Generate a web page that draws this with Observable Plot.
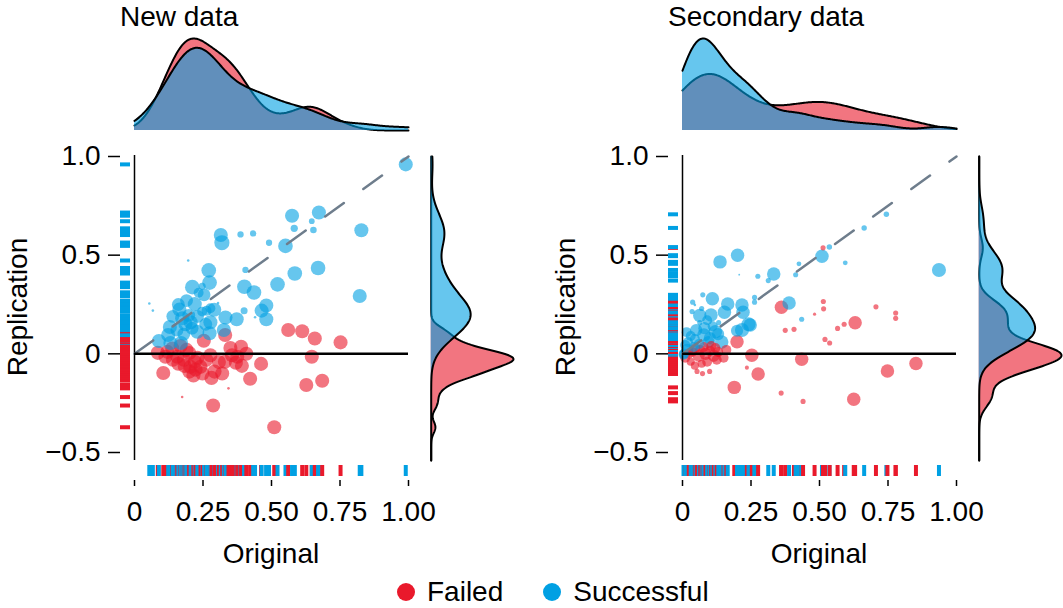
<!DOCTYPE html>
<html><head><meta charset="utf-8">
<script src="https://cdn.jsdelivr.net/npm/d3@7"></script>
<script src="https://cdn.jsdelivr.net/npm/@observablehq/plot@0.6"></script>
<style>
body{margin:0;background:#fff;font-family:"Liberation Sans",Arial,Helvetica,sans-serif;}
#chart{position:relative;width:1063px;height:608px;overflow:hidden;background:#fff;}
.panel{position:absolute;top:0;width:548px;height:608px;}
.panel svg{position:absolute;left:0;top:0;}
#legend{position:absolute;left:397px;top:578px;display:flex;align-items:center;height:28px;font-size:28px;line-height:28px;}
#legend .dot{width:18px;height:18px;border-radius:50%;display:inline-block;margin-right:12px;}
#legend .item{display:flex;align-items:center;}
</style></head><body><div id="chart"></div>
<script>
// ---------- categories, labels ----------
const outcomes = ["Failed", "Successful"];
const outcomeColors = ["#E9192B", "#00A0E3"];
const panelTitles = ["New data", "Secondary data"];
const xLabel = "Original";
const yLabel = "Replication";
const xTicks = [0, 0.25, 0.5, 0.75, 1];
const yTicks = [-0.5, 0, 0.5, 1];
const identityLine = [0, 1];

// ---------- New data: Successful ----------
const newSuccessX = [0.99,0.575,0.673,0.647,0.583,0.653,0.828,0.315,0.319,0.387,0.433,0.491,0.551,0.196,0.271,0.405,0.585,0.670,0.211,0.274,0.401,0.436,0.522,0.822,0.254,0.054,0.067,0.164,0.220,0.291,0.263,0.481,0.400,0.464,0.481,0.332,0.373,0.277,0.305,0.44,0.174,0.129,0.089,0.186,0.229,0.274,0.326,0.123,0.17,0.131,0.247,0.247,0.277,0.198,0.234,0.205,0.155,0.19,0.23,0.16,0.21,0.26,0.14,0.18];
const newSuccessY = [0.96,0.70,0.716,0.672,0.636,0.628,0.626,0.602,0.563,0.605,0.61,0.563,0.547,0.473,0.423,0.425,0.407,0.435,0.338,0.361,0.340,0.311,0.352,0.293,0.299,0.255,0.219,0.224,0.252,0.223,0.218,0.245,0.218,0.219,0.175,0.184,0.175,0.160,0.257,0.185,0.180,0.136,0.065,0.150,0.112,0.104,0.121,0.095,0.055,0.055,0.342,0.214,0.231,0.195,0.31,0.16,0.12,0.27,0.19,0.25,0.13,0.15,0.19,0.10];
const newSuccessN = [600,600,600,100,160,130,600,600,700,120,120,120,650,20,650,120,650,650,650,650,650,650,650,600,500,20,20,600,600,600,300,600,150,600,600,600,600,600,20,20,600,600,600,600,600,600,600,600,600,600,150,300,300,500,300,600,500,500,500,500,500,500,500,500];

// ---------- New data: Failed ----------
const newFailX = [0.561,0.612,0.658,0.752,0.647,0.462,0.627,0.685,0.422,0.287,0.510,0.343,0.174,0.105,0.085,0.331,0.253,0.389,0.408,0.356,0.375,0.392,0.320,0.281,0.308,0.277,0.241,0.223,0.204,0.180,0.156,0.138,0.168,0.113,0.200,0.230,0.262,0.350,0.370,0.292,0.215,0.248,0.330,0.183,0.12,0.19,0.22,0.16,0.14,0.20];
const newFailY = [0.121,0.114,0.078,0.058,-0.015,-0.051,-0.158,-0.136,-0.126,-0.262,-0.372,-0.175,-0.219,-0.097,0.005,0.095,0.066,0.036,0.000,-0.007,-0.015,-0.061,-0.100,-0.122,-0.041,-0.007,-0.066,-0.080,-0.066,-0.030,-0.015,0.027,0.040,-0.015,0.004,-0.020,-0.030,0.030,-0.045,-0.090,-0.110,-0.100,-0.040,-0.062,0.01,0.02,-0.04,-0.05,-0.03,-0.09];
const newFailN = [600,600,600,600,600,600,600,600,600,600,600,20,20,600,600,600,600,600,600,600,600,600,600,600,600,600,600,600,600,600,600,600,600,600,600,600,600,600,600,600,600,600,600,600,600,600,600,600,600,600];

// ---------- Secondary data: Successful ----------
const secSuccessX = [0.744,0.663,0.536,0.509,0.594,0.201,0.137,0.207,0.425,0.333,0.275,0.313,0.413,0.936,0.074,0.037,0.109,0.165,0.217,0.263,0.263,0.389,0.035,0.063,0.104,0.153,0.221,0.241,0.435,0.132,0.063,0.120,0.078,0.217,0.199,0.143,0.095,0.041,0.017,0.005,0.010,0.045,0.004,0.247,0.02,0.03,0.05,0.06,0.08,0.10,0.11,0.13,0.015,0.045,0.09,0.07];
const secSuccessY = [0.707,0.638,0.541,0.495,0.461,0.500,0.466,0.401,0.456,0.405,0.393,0.371,0.401,0.425,0.299,0.262,0.279,0.252,0.248,0.286,0.262,0.258,0.214,0.194,0.197,0.211,0.211,0.150,0.175,0.158,0.158,0.112,0.095,0.121,0.117,0.060,0.060,0.035,0.020,0.000,0.045,0.248,-0.005,0.146,0.06,0.09,0.12,0.05,0.13,0.08,0.14,0.10,0.11,0.075,0.17,0.23];
const secSuccessN = [90,90,90,550,70,550,550,10,70,550,80,80,80,600,80,80,550,550,550,80,80,550,80,550,550,550,550,600,80,80,80,550,550,600,450,550,450,300,450,300,300,20,300,550,300,300,450,300,450,450,300,450,300,300,300,80];

// ---------- Secondary data: Failed ----------
const secFailX = [0.513,0.361,0.514,0.515,0.482,0.706,0.778,0.778,0.630,0.590,0.566,0.375,0.407,0.199,0.520,0.537,0.253,0.435,0.235,0.276,0.189,0.360,0.440,0.625,0.748,0.852,0.053,0.073,0.099,0.132,0.023,0.059,0.084,0.114,0.047,0.077,0.100,0.125,0.130,0.01,0.035,0.065,0.09,0.15,0.16,0.105,0.03,0.07,0.12,0.045];
const secFailY = [0.537,0.236,0.265,0.228,0.201,0.238,0.207,0.180,0.158,0.150,0.129,0.119,0.124,0.061,0.073,0.055,-0.007,-0.027,-0.070,-0.102,-0.170,-0.199,-0.241,-0.230,-0.087,-0.049,-0.089,-0.100,-0.089,-0.002,0.000,-0.010,0.000,-0.010,0.030,0.035,0.015,-0.030,0.010,-0.02,0.01,0.02,-0.04,-0.02,0.02,0.04,-0.04,-0.05,0.03,-0.06];
const secFailN = [80,550,80,80,30,80,80,80,550,80,80,80,80,550,80,80,550,550,50,550,550,80,80,550,550,550,80,80,80,80,300,450,450,450,300,300,300,300,300,300,300,300,300,300,300,300,200,200,300,200];

// ---------- helpers ----------
function rowsOf(xs, ys, ns, outcome) {
  return xs.map((x, i) => ({x, y: ys[i], n: ns[i], outcome}));
}
const panels = [
  {title: panelTitles[0], fail: rowsOf(newFailX, newFailY, newFailN, outcomes[0]), success: rowsOf(newSuccessX, newSuccessY, newSuccessN, outcomes[1])},
  {title: panelTitles[1], fail: rowsOf(secFailX, secFailY, secFailN, outcomes[0]), success: rowsOf(secSuccessX, secSuccessY, secSuccessN, outcomes[1])}
];

// R's bw.nrd0 and a gaussian kernel density estimate (statistical transform of the data)
function bwNrd0(v) {
  const s = d3.sort(v);
  const sd = d3.deviation(s);
  const iqr = d3.quantile(s, 0.75) - d3.quantile(s, 0.25);
  let lo = Math.min(sd, iqr / 1.34);
  if (!(lo > 0)) lo = sd || 1;
  return 0.9 * lo * Math.pow(s.length, -0.2);
}
function kde(values, lo, hi, outcome) {
  const h = bwNrd0(values);
  const k = u => Math.exp(-0.5 * u * u) / Math.sqrt(2 * Math.PI);
  return d3.range(301).map(i => {
    const t = lo + (hi - lo) * i / 300;
    return {t, d: d3.mean(values, v => k((t - v) / h)) / h, outcome};
  });
}

const baseStyle = {background: "transparent", overflow: "visible", fontFamily: "'Liberation Sans', Arial, Helvetica, sans-serif", fontSize: "28px", color: "#000"};
const color = {domain: outcomes, range: outcomeColors};
const fmtX = d => d === 0 ? "0" : d.toFixed(2);
const fmtY = d => d === 0 ? "0" : d.toFixed(1).replace("-", "\u2212");
const Y = {domain: [-0.5, 1], range: [452, 156]};

const chart = document.getElementById("chart");

panels.forEach((p, pi) => {
  const div = document.createElement("div");
  div.className = "panel";
  div.style.left = (pi * 548) + "px";
  chart.appendChild(div);

  const rows = [...p.fail, ...p.success];

  // marginal densities
  const dxF = kde(p.fail.map(d => d.x), 0, 1, outcomes[0]);
  const dxS = kde(p.success.map(d => d.x), 0, 1, outcomes[1]);
  const dyF = kde(p.fail.map(d => d.y), -0.54, 1.0, outcomes[0]);
  const dyS = kde(p.success.map(d => d.y), -0.54, 1.0, outcomes[1]);
  const maxX = d3.max([...dxF, ...dxS], d => d.d);
  const maxY = d3.max([...dyF, ...dyS], d => d.d);

  // right marginal (Replication)
  div.appendChild(Plot.plot({
    width: 530, height: 470, marginLeft: 430, marginRight: 10, marginTop: 155, marginBottom: 10,
    style: baseStyle,
    x: {domain: [0, maxY], range: [430.7, 513], axis: null},
    y: {...Y, axis: null},
    color,
    marks: [
      Plot.areaX(dyF, {y: "t", x: "d", fill: "outcome", fillOpacity: 0.6}),
      Plot.lineX(dyF, {y: "t", x: "d", stroke: "#000", strokeWidth: 2}),
      Plot.areaX(dyS, {y: "t", x: "d", fill: "outcome", fillOpacity: 0.6}),
      Plot.lineX(dyS, {y: "t", x: "d", stroke: "#000", strokeWidth: 2})
    ]
  }));

  // top marginal (Original)
  div.appendChild(Plot.plot({
    width: 420, height: 135, marginLeft: 134, marginRight: 12, marginTop: 38, marginBottom: 5,
    style: baseStyle,
    x: {domain: [0, 1], axis: null},
    y: {domain: [0, maxX], range: [130, 38], axis: null},
    color,
    marks: [
      Plot.areaY(dxF, {x: "t", y: "d", fill: "outcome", fillOpacity: 0.6}),
      Plot.lineY(dxF, {x: "t", y: "d", stroke: "#000", strokeWidth: 2}),
      Plot.areaY(dxS, {x: "t", y: "d", fill: "outcome", fillOpacity: 0.6}),
      Plot.lineY(dxS, {x: "t", y: "d", stroke: "#000", strokeWidth: 2})
    ]
  }));

  // scatter
  div.appendChild(Plot.plot({
    width: 420, height: 470, marginLeft: 134, marginRight: 12, marginTop: 155, marginBottom: 10,
    style: baseStyle,
    x: {domain: [0, 1], axis: null},
    y: {...Y, axis: null},
    r: {domain: [0, 700], range: [0, 7.6]},
    color,
    marks: [
      Plot.dot(rows, {x: "x", y: "y", r: "n", fill: "outcome", fillOpacity: 0.6}),
      Plot.ruleX([0], {stroke: "#000", strokeWidth: 1.5}),
      Plot.line(identityLine, {x: d => d, y: d => d, stroke: "#6E7D8C", strokeWidth: 2.5, strokeDasharray: "23,24"}),
      Plot.ruleY([0], {stroke: "#000", strokeWidth: 2.5})
    ]
  }));

  // bottom rug + x axis
  div.appendChild(Plot.plot({
    width: 420, height: 530, marginLeft: 134, marginRight: 12, marginTop: 465, marginBottom: 50,
    style: baseStyle,
    x: {domain: [0, 1]},
    color,
    marks: [
      Plot.tickX(rows, {x: "x", stroke: "outcome", strokeWidth: 4, insetBottom: 4, sort: "x"}),
      Plot.axisX({ticks: xTicks, tickFormat: fmtX, tickSize: 6, tickPadding: 15, strokeWidth: 1.5, label: null})
    ]
  }));

  // left rug + y axis
  div.appendChild(Plot.plot({
    width: 130, height: 470, marginLeft: 120, marginRight: 0, marginTop: 155, marginBottom: 10,
    style: baseStyle,
    y: Y,
    color,
    marks: [
      Plot.tickY(rows, {y: "y", stroke: "outcome", strokeWidth: 4, sort: "y"}),
      Plot.axisY({ticks: yTicks, tickFormat: fmtY, tickSize: 12, tickPadding: 8, strokeWidth: 1.5, label: null})
    ]
  }));

  // titles and axis titles
  const svg = d3.create("svg").attr("width", 548).attr("height", 608)
    .style("font-family", "'Liberation Sans', Arial, Helvetica, sans-serif").style("font-size", "28px");
  svg.append("text").attr("x", 120).attr("y", 26).text(p.title);
  svg.append("text").attr("x", 271).attr("y", 563).attr("text-anchor", "middle").text(xLabel);
  svg.append("text").attr("transform", "translate(27,307) rotate(-90)").attr("text-anchor", "middle").text(yLabel);
  div.appendChild(svg.node());
});

// legend
const legend = document.createElement("div");
legend.id = "legend";
outcomes.forEach((o, i) => {
  const item = document.createElement("div");
  item.className = "item";
  item.style.marginRight = i === 0 ? "40px" : "0";
  const dot = document.createElement("span");
  dot.className = "dot";
  dot.style.background = outcomeColors[i];
  item.appendChild(dot);
  item.appendChild(document.createTextNode(o));
  legend.appendChild(item);
});
chart.appendChild(legend);
</script></body></html>
